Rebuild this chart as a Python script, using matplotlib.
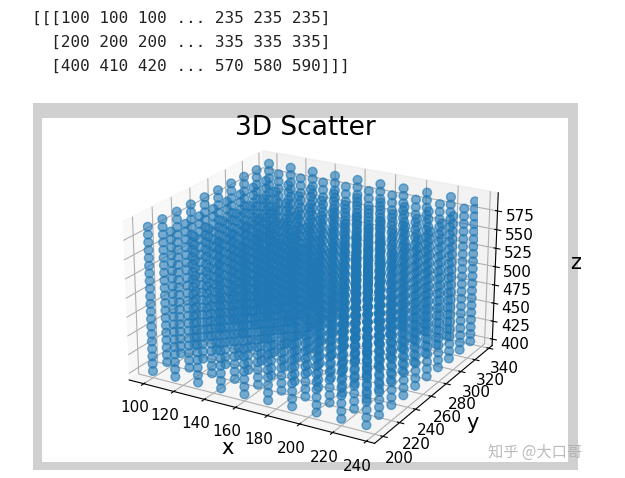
import matplotlib
matplotlib.use("Agg")
import matplotlib.pyplot as plt
import numpy as np
from matplotlib.patches import Rectangle
from matplotlib.ticker import MultipleLocator

# grid values as printed in the notebook output
x_vals = [100, 115, 130, 145, 160, 175, 190, 205, 220, 235]
y_vals = [200, 215, 230, 245, 260, 275, 290, 305, 320, 335]
z_vals = [400, 410, 420, 430, 440, 450, 460, 470, 480, 490,
          500, 510, 520, 530, 540, 550, 560, 570, 580, 590]

X, Y, Z = np.meshgrid(x_vals, y_vals, z_vals, indexing='ij')
pts = np.array([X.ravel(), Y.ravel(), Z.ravel()])

W, H = 625, 478
fig = plt.figure(figsize=(W / 100, H / 100), dpi=100)
fig.patch.set_facecolor('white')

# printed array text
lines = ["[[[100 100 100 ... 235 235 235]",
         "  [200 200 200 ... 335 335 335]",
         "  [400 410 420 ... 570 580 590]]]"]
for i, ln in enumerate(lines):
    fig.text(32 / W, 1 - (18 + 24 * i) / H, ln, family='DejaVu Sans Mono',
             fontsize=11.5, va='center', ha='left', color='#222222')

# grey frame around the output image
fig.add_artist(Rectangle((33 / W, 1 - 470 / H), 545 / W, 367 / H,
                         transform=fig.transFigure, facecolor='#d0d0d0',
                         edgecolor='none', zorder=0))
fig.add_artist(Rectangle((42 / W, 1 - 462 / H), 526 / W, 344 / H,
                         transform=fig.transFigure, facecolor='white',
                         edgecolor='none', zorder=0))

ax = fig.add_axes([50 / W, 1 - 458 / H, 520 / W, 335 / H], projection='3d')
ax.set_facecolor('none')
ax.view_init(elev=22, azim=-60)
ax.set_box_aspect((4.3, 4, 2.6), zoom=1.2)
ax.scatter(*pts, s=40, alpha=0.6, depthshade=True)
ax.set_zlim(391, 599)
ax.xaxis.set_major_locator(MultipleLocator(20))
ax.yaxis.set_major_locator(MultipleLocator(20))
ax.zaxis.set_major_locator(MultipleLocator(25))
ax.set_xlabel('x', fontsize=15, labelpad=-3)
ax.set_ylabel('y', fontsize=15, labelpad=-3)
ax.set_zlabel('z', fontsize=15, labelpad=8)
ax.tick_params(labelsize=11, pad=0)
fig.text(305 / W, 1 - 128 / H, '3D Scatter', fontsize=19, ha='center', va='center')

fig.text(488 / W, 1 - 452 / H, '知乎 @大口哥', family=['Noto Sans CJK SC', 'DejaVu Sans'],
         fontsize=11, color='#aaaaaa', alpha=0.8, va='center')

fig.savefig('out.png', dpi=100)
